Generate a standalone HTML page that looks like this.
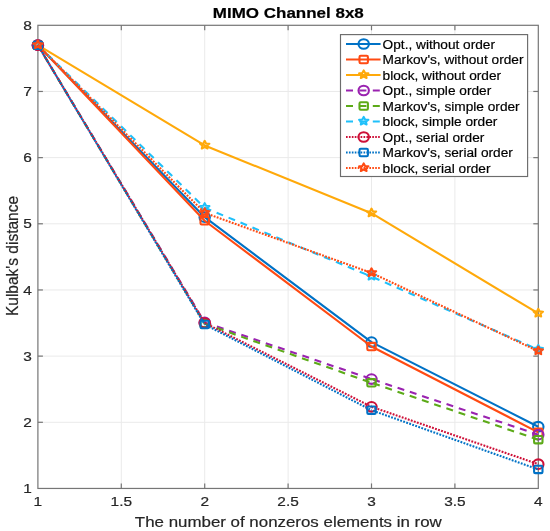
<!DOCTYPE html>
<html><head><meta charset="utf-8"><title>MIMO Channel 8x8</title>
<style>html,body{margin:0;padding:0;background:#fff}svg{display:block}text{font-family:"Liberation Sans",Arial,Helvetica,sans-serif;fill:#262626;stroke:#262626;stroke-width:0.2px}.k{fill:#000;stroke:#000}</style></head><body>
<svg width="550" height="531" viewBox="0 0 550 531">
<rect width="550" height="531" fill="#fff"/>
<g stroke="#eaeaea" stroke-width="1" fill="none">
<line x1="121.30" y1="25.30" x2="121.30" y2="488.45"/>
<line x1="204.70" y1="25.30" x2="204.70" y2="488.45"/>
<line x1="288.10" y1="25.30" x2="288.10" y2="488.45"/>
<line x1="371.50" y1="25.30" x2="371.50" y2="488.45"/>
<line x1="454.90" y1="25.30" x2="454.90" y2="488.45"/>
<line x1="37.90" y1="422.29" x2="538.30" y2="422.29"/>
<line x1="37.90" y1="356.12" x2="538.30" y2="356.12"/>
<line x1="37.90" y1="289.96" x2="538.30" y2="289.96"/>
<line x1="37.90" y1="223.79" x2="538.30" y2="223.79"/>
<line x1="37.90" y1="157.63" x2="538.30" y2="157.63"/>
<line x1="37.90" y1="91.46" x2="538.30" y2="91.46"/>
</g>
<g stroke="#767676" stroke-width="1.2" fill="none">
<rect x="37.90" y="25.30" width="500.40" height="463.15"/>
<line x1="121.30" y1="488.45" x2="121.30" y2="483.45"/>
<line x1="121.30" y1="25.30" x2="121.30" y2="30.30"/>
<line x1="204.70" y1="488.45" x2="204.70" y2="483.45"/>
<line x1="204.70" y1="25.30" x2="204.70" y2="30.30"/>
<line x1="288.10" y1="488.45" x2="288.10" y2="483.45"/>
<line x1="288.10" y1="25.30" x2="288.10" y2="30.30"/>
<line x1="371.50" y1="488.45" x2="371.50" y2="483.45"/>
<line x1="371.50" y1="25.30" x2="371.50" y2="30.30"/>
<line x1="454.90" y1="488.45" x2="454.90" y2="483.45"/>
<line x1="454.90" y1="25.30" x2="454.90" y2="30.30"/>
<line x1="37.90" y1="422.29" x2="42.90" y2="422.29"/>
<line x1="538.30" y1="422.29" x2="533.30" y2="422.29"/>
<line x1="37.90" y1="356.12" x2="42.90" y2="356.12"/>
<line x1="538.30" y1="356.12" x2="533.30" y2="356.12"/>
<line x1="37.90" y1="289.96" x2="42.90" y2="289.96"/>
<line x1="538.30" y1="289.96" x2="533.30" y2="289.96"/>
<line x1="37.90" y1="223.79" x2="42.90" y2="223.79"/>
<line x1="538.30" y1="223.79" x2="533.30" y2="223.79"/>
<line x1="37.90" y1="157.63" x2="42.90" y2="157.63"/>
<line x1="538.30" y1="157.63" x2="533.30" y2="157.63"/>
<line x1="37.90" y1="91.46" x2="42.90" y2="91.46"/>
<line x1="538.30" y1="91.46" x2="533.30" y2="91.46"/>
</g>
<text transform="translate(37.90,505.80) scale(1.170,1)" font-size="13.20" text-anchor="middle">1</text>
<text transform="translate(121.30,505.80) scale(1.170,1)" font-size="13.20" text-anchor="middle">1.5</text>
<text transform="translate(204.70,505.80) scale(1.170,1)" font-size="13.20" text-anchor="middle">2</text>
<text transform="translate(288.10,505.80) scale(1.170,1)" font-size="13.20" text-anchor="middle">2.5</text>
<text transform="translate(371.50,505.80) scale(1.170,1)" font-size="13.20" text-anchor="middle">3</text>
<text transform="translate(454.90,505.80) scale(1.170,1)" font-size="13.20" text-anchor="middle">3.5</text>
<text transform="translate(538.30,505.80) scale(1.170,1)" font-size="13.20" text-anchor="middle">4</text>
<text transform="translate(31.90,493.05) scale(1.170,1)" font-size="13.20" text-anchor="end">1</text>
<text transform="translate(31.90,426.89) scale(1.170,1)" font-size="13.20" text-anchor="end">2</text>
<text transform="translate(31.90,360.72) scale(1.170,1)" font-size="13.20" text-anchor="end">3</text>
<text transform="translate(31.90,294.56) scale(1.170,1)" font-size="13.20" text-anchor="end">4</text>
<text transform="translate(31.90,228.39) scale(1.170,1)" font-size="13.20" text-anchor="end">5</text>
<text transform="translate(31.90,162.23) scale(1.170,1)" font-size="13.20" text-anchor="end">6</text>
<text transform="translate(31.90,96.06) scale(1.170,1)" font-size="13.20" text-anchor="end">7</text>
<text transform="translate(31.90,29.90) scale(1.170,1)" font-size="13.20" text-anchor="end">8</text>
<polyline points="37.90,45.15 204.70,217.18 371.50,342.09 538.30,426.72" fill="none" stroke="#0072C6" stroke-width="2.1" stroke-linejoin="round"/>
<ellipse cx="37.90" cy="45.15" rx="5.2" ry="4.8" fill="none" stroke="#0072C6" stroke-width="2.1"/>
<ellipse cx="204.70" cy="217.18" rx="5.2" ry="4.8" fill="none" stroke="#0072C6" stroke-width="2.1"/>
<ellipse cx="371.50" cy="342.09" rx="5.2" ry="4.8" fill="none" stroke="#0072C6" stroke-width="2.1"/>
<ellipse cx="538.30" cy="426.72" rx="5.2" ry="4.8" fill="none" stroke="#0072C6" stroke-width="2.1"/>
<polyline points="37.90,45.15 204.70,220.75 371.50,346.53 538.30,432.34" fill="none" stroke="#FF4A12" stroke-width="2.1" stroke-linejoin="round"/>
<rect x="33.70" y="41.45" width="8.4" height="7.4" rx="1.2" fill="none" stroke="#FF4A12" stroke-width="2.1" stroke-linejoin="round"/>
<rect x="200.50" y="217.05" width="8.4" height="7.4" rx="1.2" fill="none" stroke="#FF4A12" stroke-width="2.1" stroke-linejoin="round"/>
<rect x="367.30" y="342.83" width="8.4" height="7.4" rx="1.2" fill="none" stroke="#FF4A12" stroke-width="2.1" stroke-linejoin="round"/>
<rect x="534.10" y="428.64" width="8.4" height="7.4" rx="1.2" fill="none" stroke="#FF4A12" stroke-width="2.1" stroke-linejoin="round"/>
<polyline points="37.90,45.15 204.70,145.45 371.50,213.21 538.30,313.45" fill="none" stroke="#FFA90A" stroke-width="2.1" stroke-linejoin="round"/>
<polygon points="37.90,40.55 39.28,43.12 42.56,43.45 40.14,45.37 40.78,48.15 37.90,46.77 35.02,48.15 35.66,45.37 33.24,43.45 36.52,43.12" fill="none" stroke="#FFA90A" stroke-width="2.1" stroke-linejoin="round"/>
<polygon points="204.70,140.85 206.08,143.42 209.36,143.76 206.94,145.68 207.58,148.45 204.70,147.07 201.82,148.45 202.46,145.68 200.04,143.76 203.32,143.42" fill="none" stroke="#FFA90A" stroke-width="2.1" stroke-linejoin="round"/>
<polygon points="371.50,208.61 372.88,211.18 376.16,211.51 373.74,213.43 374.38,216.20 371.50,214.82 368.62,216.20 369.26,213.43 366.84,211.51 370.12,211.18" fill="none" stroke="#FFA90A" stroke-width="2.1" stroke-linejoin="round"/>
<polygon points="538.30,308.85 539.68,311.41 542.96,311.75 540.54,313.67 541.18,316.44 538.30,315.06 535.42,316.44 536.06,313.67 533.64,311.75 536.92,311.41" fill="none" stroke="#FFA90A" stroke-width="2.1" stroke-linejoin="round"/>
<line x1="37.90" y1="45.15" x2="204.70" y2="322.38" stroke="#9A22B0" stroke-width="2.1" stroke-dasharray="7 5.9"/>
<line x1="204.70" y1="322.38" x2="371.50" y2="379.08" stroke="#9A22B0" stroke-width="2.1" stroke-dasharray="7 5.9"/>
<line x1="371.50" y1="379.08" x2="538.30" y2="434.66" stroke="#9A22B0" stroke-width="2.1" stroke-dasharray="7 5.9" stroke-dashoffset="-1.7"/>
<ellipse cx="37.90" cy="45.15" rx="5.2" ry="4.8" fill="none" stroke="#9A22B0" stroke-width="2.1"/>
<ellipse cx="204.70" cy="322.38" rx="5.2" ry="4.8" fill="none" stroke="#9A22B0" stroke-width="2.1"/>
<ellipse cx="371.50" cy="379.08" rx="5.2" ry="4.8" fill="none" stroke="#9A22B0" stroke-width="2.1"/>
<ellipse cx="538.30" cy="434.66" rx="5.2" ry="4.8" fill="none" stroke="#9A22B0" stroke-width="2.1"/>
<line x1="37.90" y1="45.15" x2="204.70" y2="323.70" stroke="#5CAA18" stroke-width="2.1" stroke-dasharray="7 5.9"/>
<line x1="204.70" y1="323.70" x2="371.50" y2="382.79" stroke="#5CAA18" stroke-width="2.1" stroke-dasharray="7 5.9"/>
<line x1="371.50" y1="382.79" x2="538.30" y2="439.69" stroke="#5CAA18" stroke-width="2.1" stroke-dasharray="7 5.9" stroke-dashoffset="-1.7"/>
<rect x="33.70" y="41.45" width="8.4" height="7.4" rx="1.2" fill="none" stroke="#5CAA18" stroke-width="2.1" stroke-linejoin="round"/>
<rect x="200.50" y="320.00" width="8.4" height="7.4" rx="1.2" fill="none" stroke="#5CAA18" stroke-width="2.1" stroke-linejoin="round"/>
<rect x="367.30" y="379.09" width="8.4" height="7.4" rx="1.2" fill="none" stroke="#5CAA18" stroke-width="2.1" stroke-linejoin="round"/>
<rect x="534.10" y="435.99" width="8.4" height="7.4" rx="1.2" fill="none" stroke="#5CAA18" stroke-width="2.1" stroke-linejoin="round"/>
<line x1="37.90" y1="45.15" x2="204.70" y2="207.78" stroke="#1FC0FA" stroke-width="2.1" stroke-dasharray="7 5.9"/>
<line x1="204.70" y1="207.78" x2="371.50" y2="276.53" stroke="#1FC0FA" stroke-width="2.1" stroke-dasharray="7 5.9"/>
<line x1="371.50" y1="276.53" x2="538.30" y2="349.64" stroke="#1FC0FA" stroke-width="2.1" stroke-dasharray="7 5.9" stroke-dashoffset="-1.7"/>
<polygon points="37.90,40.55 39.28,43.12 42.56,43.45 40.14,45.37 40.78,48.15 37.90,46.77 35.02,48.15 35.66,45.37 33.24,43.45 36.52,43.12" fill="none" stroke="#1FC0FA" stroke-width="2.1" stroke-linejoin="round"/>
<polygon points="204.70,203.18 206.08,205.75 209.36,206.08 206.94,208.00 207.58,210.78 204.70,209.40 201.82,210.78 202.46,208.00 200.04,206.08 203.32,205.75" fill="none" stroke="#1FC0FA" stroke-width="2.1" stroke-linejoin="round"/>
<polygon points="371.50,271.93 372.88,274.49 376.16,274.83 373.74,276.75 374.38,279.52 371.50,278.14 368.62,279.52 369.26,276.75 366.84,274.83 370.12,274.49" fill="none" stroke="#1FC0FA" stroke-width="2.1" stroke-linejoin="round"/>
<polygon points="538.30,345.04 539.68,347.61 542.96,347.94 540.54,349.86 541.18,352.64 538.30,351.25 535.42,352.64 536.06,349.86 533.64,347.94 536.92,347.61" fill="none" stroke="#1FC0FA" stroke-width="2.1" stroke-linejoin="round"/>
<line x1="37.90" y1="45.15" x2="204.70" y2="323.04" stroke="#CE1038" stroke-width="2.1" stroke-dasharray="1.85 1.35"/>
<line x1="204.70" y1="323.04" x2="371.50" y2="406.80" stroke="#CE1038" stroke-width="2.1" stroke-dasharray="1.85 1.35"/>
<line x1="371.50" y1="406.80" x2="538.30" y2="464.17" stroke="#CE1038" stroke-width="2.1" stroke-dasharray="1.85 1.35"/>
<ellipse cx="37.90" cy="45.15" rx="5.2" ry="4.8" fill="none" stroke="#CE1038" stroke-width="2.1"/>
<ellipse cx="204.70" cy="323.04" rx="5.2" ry="4.8" fill="none" stroke="#CE1038" stroke-width="2.1"/>
<ellipse cx="371.50" cy="406.80" rx="5.2" ry="4.8" fill="none" stroke="#CE1038" stroke-width="2.1"/>
<ellipse cx="538.30" cy="464.17" rx="5.2" ry="4.8" fill="none" stroke="#CE1038" stroke-width="2.1"/>
<line x1="37.90" y1="45.15" x2="204.70" y2="324.49" stroke="#0072C6" stroke-width="2.1" stroke-dasharray="1.85 1.35" stroke-dashoffset="1.55"/>
<line x1="204.70" y1="324.49" x2="371.50" y2="410.18" stroke="#0072C6" stroke-width="2.1" stroke-dasharray="1.85 1.35" stroke-dashoffset="1.55"/>
<line x1="371.50" y1="410.18" x2="538.30" y2="469.46" stroke="#0072C6" stroke-width="2.1" stroke-dasharray="1.85 1.35" stroke-dashoffset="1.55"/>
<rect x="33.70" y="41.45" width="8.4" height="7.4" rx="1.2" fill="none" stroke="#0072C6" stroke-width="2.1" stroke-linejoin="round"/>
<rect x="200.50" y="320.79" width="8.4" height="7.4" rx="1.2" fill="none" stroke="#0072C6" stroke-width="2.1" stroke-linejoin="round"/>
<rect x="367.30" y="406.48" width="8.4" height="7.4" rx="1.2" fill="none" stroke="#0072C6" stroke-width="2.1" stroke-linejoin="round"/>
<rect x="534.10" y="465.76" width="8.4" height="7.4" rx="1.2" fill="none" stroke="#0072C6" stroke-width="2.1" stroke-linejoin="round"/>
<line x1="37.90" y1="45.15" x2="204.70" y2="212.88" stroke="#FF4A12" stroke-width="2.1" stroke-dasharray="1.85 1.35"/>
<line x1="204.70" y1="212.88" x2="371.50" y2="272.95" stroke="#FF4A12" stroke-width="2.1" stroke-dasharray="1.85 1.35"/>
<line x1="371.50" y1="272.95" x2="538.30" y2="351.16" stroke="#FF4A12" stroke-width="2.1" stroke-dasharray="1.85 1.35"/>
<polygon points="37.90,40.55 39.28,43.12 42.56,43.45 40.14,45.37 40.78,48.15 37.90,46.77 35.02,48.15 35.66,45.37 33.24,43.45 36.52,43.12" fill="none" stroke="#FF4A12" stroke-width="2.1" stroke-linejoin="round"/>
<polygon points="204.70,208.28 206.08,210.84 209.36,211.18 206.94,213.10 207.58,215.87 204.70,214.49 201.82,215.87 202.46,213.10 200.04,211.18 203.32,210.84" fill="none" stroke="#FF4A12" stroke-width="2.1" stroke-linejoin="round"/>
<polygon points="371.50,268.35 372.88,270.92 376.16,271.26 373.74,273.18 374.38,275.95 371.50,274.57 368.62,275.95 369.26,273.18 366.84,271.26 370.12,270.92" fill="none" stroke="#FF4A12" stroke-width="2.1" stroke-linejoin="round"/>
<polygon points="538.30,346.56 539.68,349.13 542.96,349.46 540.54,351.38 541.18,354.16 538.30,352.78 535.42,354.16 536.06,351.38 533.64,349.46 536.92,349.13" fill="none" stroke="#FF4A12" stroke-width="2.1" stroke-linejoin="round"/>
<rect x="340.5" y="34.6" width="187.1" height="141.9" fill="#fff" stroke="#6c6c6c" stroke-width="1.15"/>
<line x1="346" y1="44.00" x2="380.6" y2="44.00" stroke="#0072C6" stroke-width="2.1"/>
<ellipse cx="363.70" cy="44.00" rx="5.2" ry="4.8" fill="none" stroke="#0072C6" stroke-width="2.1"/>
<text transform="translate(382.60,48.85) scale(1.045,1)" font-size="13.10" text-anchor="start" class="k">Opt., without order</text>
<line x1="346" y1="59.50" x2="380.6" y2="59.50" stroke="#FF4A12" stroke-width="2.1"/>
<rect x="359.50" y="55.80" width="8.4" height="7.4" rx="1.2" fill="none" stroke="#FF4A12" stroke-width="2.1" stroke-linejoin="round"/>
<text transform="translate(382.60,64.35) scale(1.045,1)" font-size="13.10" text-anchor="start" class="k">Markov's, without order</text>
<line x1="346" y1="75.00" x2="380.6" y2="75.00" stroke="#FFA90A" stroke-width="2.1"/>
<polygon points="363.70,70.40 365.08,72.97 368.36,73.30 365.94,75.22 366.58,78.00 363.70,76.62 360.82,78.00 361.46,75.22 359.04,73.30 362.32,72.97" fill="none" stroke="#FFA90A" stroke-width="2.1" stroke-linejoin="round"/>
<text transform="translate(382.60,79.85) scale(1.045,1)" font-size="13.10" text-anchor="start" class="k">block, without order</text>
<line x1="346" y1="90.50" x2="380.6" y2="90.50" stroke="#9A22B0" stroke-width="2.1" stroke-dasharray="7 6.4"/>
<ellipse cx="363.70" cy="90.50" rx="5.2" ry="4.8" fill="none" stroke="#9A22B0" stroke-width="2.1"/>
<text transform="translate(382.60,95.35) scale(1.045,1)" font-size="13.10" text-anchor="start" class="k">Opt., simple order</text>
<line x1="346" y1="106.00" x2="380.6" y2="106.00" stroke="#5CAA18" stroke-width="2.1" stroke-dasharray="7 6.4"/>
<rect x="359.50" y="102.30" width="8.4" height="7.4" rx="1.2" fill="none" stroke="#5CAA18" stroke-width="2.1" stroke-linejoin="round"/>
<text transform="translate(382.60,110.85) scale(1.045,1)" font-size="13.10" text-anchor="start" class="k">Markov's, simple order</text>
<line x1="346" y1="121.50" x2="380.6" y2="121.50" stroke="#1FC0FA" stroke-width="2.1" stroke-dasharray="7 6.4"/>
<polygon points="363.70,116.90 365.08,119.47 368.36,119.80 365.94,121.72 366.58,124.50 363.70,123.12 360.82,124.50 361.46,121.72 359.04,119.80 362.32,119.47" fill="none" stroke="#1FC0FA" stroke-width="2.1" stroke-linejoin="round"/>
<text transform="translate(382.60,126.35) scale(1.045,1)" font-size="13.10" text-anchor="start" class="k">block, simple order</text>
<line x1="346" y1="137.00" x2="380.6" y2="137.00" stroke="#CE1038" stroke-width="2.1" stroke-dasharray="1.65 1.27"/>
<ellipse cx="363.70" cy="137.00" rx="5.2" ry="4.8" fill="none" stroke="#CE1038" stroke-width="2.1"/>
<text transform="translate(382.60,141.85) scale(1.045,1)" font-size="13.10" text-anchor="start" class="k">Opt., serial order</text>
<line x1="346" y1="152.50" x2="380.6" y2="152.50" stroke="#0072C6" stroke-width="2.1" stroke-dasharray="1.65 1.27"/>
<rect x="359.50" y="148.80" width="8.4" height="7.4" rx="1.2" fill="none" stroke="#0072C6" stroke-width="2.1" stroke-linejoin="round"/>
<text transform="translate(382.60,157.35) scale(1.045,1)" font-size="13.10" text-anchor="start" class="k">Markov's, serial order</text>
<line x1="346" y1="168.00" x2="380.6" y2="168.00" stroke="#FF4A12" stroke-width="2.1" stroke-dasharray="1.65 1.27"/>
<polygon points="363.70,163.40 365.08,165.97 368.36,166.30 365.94,168.22 366.58,171.00 363.70,169.62 360.82,171.00 361.46,168.22 359.04,166.30 362.32,165.97" fill="none" stroke="#FF4A12" stroke-width="2.1" stroke-linejoin="round"/>
<text transform="translate(382.60,172.85) scale(1.045,1)" font-size="13.10" text-anchor="start" class="k">block, serial order</text>
<text transform="translate(288.30,18.00) scale(1.110,1)" font-size="15.30" text-anchor="middle" font-weight="bold" class="k">MIMO Channel 8x8</text>
<text transform="translate(288.30,526.70) scale(1.090,1)" font-size="15.50" text-anchor="middle">The number of nonzeros elements in row</text>
<text transform="translate(17.5,256) rotate(-90) scale(1,1.06)" text-anchor="middle" font-size="15.5">Kulbak's distance</text>
</svg></body></html>
